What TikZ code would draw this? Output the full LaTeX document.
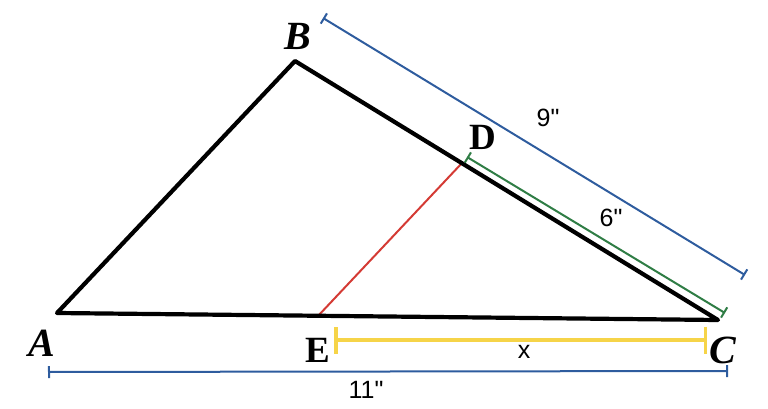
\documentclass[tikz,border=0pt]{standalone}
\usepackage{fontspec}
\setmainfont{Liberation Serif}
\newfontfamily\dimfont{Liberation Sans}[Ligatures=TeXOff]
\usetikzlibrary{arrows.meta}
\definecolor{dimblue}{HTML}{2E5C9E}
\definecolor{dimgreen}{HTML}{2F7D45}
\definecolor{dimred}{HTML}{D43A34}
\definecolor{dimyellow}{HTML}{F6D448}
\tikzset{
  vlabel/.style={font=\fontsize{40}{40}\selectfont\bfseries\itshape, inner sep=0pt},
  ulabel/.style={font=\fontsize{37}{37}\selectfont\bfseries, inner sep=0pt},
  dimtext/.style={font=\dimfont\fontsize{25}{25}\selectfont, inner sep=0pt},
  tri/.style={line width=4.2pt, line join=round, line cap=round},
  dimline/.style={line width=2pt, {Bar[width=12pt,line width=2pt]}-{Bar[width=12pt,line width=2pt]}},
}
\begin{document}
\begin{tikzpicture}[x=1pt,y=-1pt]
\useasboundingbox (0,0) rectangle (768,409);
\coordinate (A) at (57,313);
\coordinate (B) at (295,61);
\coordinate (C) at (718,320);
\coordinate (D) at (462,163);
\coordinate (E) at (318,316);
% dimension ends
\coordinate (b1) at (323,18);
\coordinate (b2) at (745,275);
\coordinate (g1) at (467,157);
\coordinate (g2) at (725,313);
\coordinate (y1) at (334,340);
\coordinate (y2) at (707,340);
\coordinate (l1) at (48,372);
\coordinate (l2) at (728,371);
% red segment
\draw[dimred, line width=2pt] (E) -- (D);
% triangle
\draw[tri] (A) -- (B) -- (C) -- cycle;
% dimensions
\draw[dimline, dimblue] (b1) -- (b2);
\draw[dimline, dimgreen] (g1) -- (g2);
\draw[dimline, dimblue] (l1) -- (l2);
\draw[dimyellow, line width=3.5pt, {Bar[width=27pt,line width=3.5pt]}-{Bar[width=27pt,line width=3.5pt]}] (y1) -- (y2);
% labels
\node[vlabel] (lB) at (298,36) {B};
\node[vlabel] (lA) at (42,343) {A};
\node[vlabel] (lC) at (723,350) {C};
\node[ulabel] (lD) at (483,137) {D};
\node[ulabel] (lE) at (318,350) {E};
\node[dimtext] (t9) at (548,118) {9"};
\node[dimtext] (t6) at (611,218) {6"};
\node[dimtext] (tx) at (524,352) {x};
\node[dimtext] (t11) at (366,390) {11"};
\end{tikzpicture}
\end{document}
